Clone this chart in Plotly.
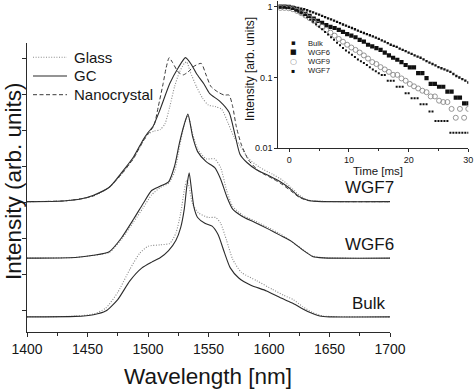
import plotly.graph_objects as go

# ---------------- main spectra (normalised intensity vs wavelength) ----------------
BULK_GC_WL = [1400, 1440, 1455, 1465, 1475, 1485, 1495, 1503, 1510, 1517, 1523, 1527, 1530, 1532, 1534, 1536, 1538, 1541, 1547, 1553,
              1558, 1563, 1568, 1575, 1585, 1598, 1610, 1620, 1628, 1634, 1642, 1650, 1700]
BULK_GC_I = [0, 0.003, 0.015, 0.04, 0.12, 0.25, 0.34, 0.38, 0.41, 0.46, 0.53, 0.62, 0.75, 0.9, 1.0, 0.88, 0.76, 0.69, 0.65, 0.63,
             0.57, 0.45, 0.34, 0.27, 0.22, 0.18, 0.13, 0.093, 0.055, 0.03, 0.006, 0.0, 0.0]

BULK_GL_WL = [1400, 1440, 1455, 1465, 1475, 1485, 1493, 1500, 1510, 1518, 1523, 1527, 1530, 1532, 1534, 1537, 1542, 1550, 1556, 1560,
              1565, 1570, 1577, 1590, 1603, 1612, 1620, 1628, 1636, 1645, 1700]
BULK_GL_I = [0, 0.005, 0.02, 0.06, 0.17, 0.33, 0.44, 0.49, 0.5, 0.51, 0.58, 0.72, 0.88, 0.95, 0.9, 0.78, 0.72, 0.69, 0.69, 0.65,
             0.53, 0.4, 0.31, 0.25, 0.19, 0.15, 0.12, 0.07, 0.03, 0.006, 0]

WGF6_GC_WL = [1400, 1440, 1455, 1468, 1478, 1488, 1496, 1503, 1510, 1517, 1522, 1526, 1530, 1533, 1537, 1541, 1548, 1555, 1560, 1565,
              1570, 1578, 1588, 1600, 1609, 1618, 1628, 1636, 1645, 1700]
WGF6_GC_I = [0, 0.005, 0.02, 0.045, 0.14, 0.27, 0.38, 0.47, 0.5, 0.53, 0.64, 0.8, 0.93, 1.0, 0.84, 0.74, 0.67, 0.63, 0.55, 0.43,
             0.34, 0.29, 0.25, 0.2, 0.16, 0.12, 0.056, 0.012, 0.002, 0]

WGF6_GL_WL = [1400, 1440, 1455, 1468, 1478, 1488, 1496, 1503, 1510, 1517, 1522, 1526, 1530, 1533, 1537, 1541, 1548, 1555, 1560, 1565,
              1570, 1578, 1588, 1600, 1609, 1618, 1628, 1636, 1645, 1700]
WGF6_GL_I = [0, 0.005, 0.02, 0.04, 0.13, 0.25, 0.35, 0.44, 0.49, 0.52, 0.6, 0.77, 0.93, 0.99, 0.86, 0.76, 0.69, 0.69, 0.63, 0.47,
             0.36, 0.3, 0.26, 0.21, 0.17, 0.12, 0.06, 0.015, 0.003, 0]

WGF7_GC_WL = [1400, 1430, 1445, 1455, 1468, 1478, 1488, 1496, 1500, 1504, 1510, 1518, 1525, 1531, 1536, 1540, 1546, 1551, 1559, 1567,
              1572, 1576, 1582, 1590, 1600, 1609, 1617, 1625, 1632, 1640, 1700]
WGF7_GC_I = [0, 0.005, 0.02, 0.045, 0.1, 0.2, 0.31, 0.43, 0.48, 0.52, 0.64, 0.82, 0.93, 1.0, 0.95, 0.89, 0.82, 0.75, 0.7, 0.62,
             0.46, 0.33, 0.27, 0.22, 0.18, 0.14, 0.093, 0.035, 0.01, 0.002, 0]

WGF7_NC_WL = [1400, 1430, 1445, 1455, 1468, 1478, 1488, 1496, 1500, 1505, 1508.5, 1512.5, 1515, 1517.5, 1520, 1525, 1529, 1533, 1538, 1544,
              1548, 1552, 1558, 1563, 1567, 1570, 1573, 1577, 1583, 1592, 1603, 1610, 1618, 1625, 1632, 1640, 1700]
WGF7_NC_I = [0, 0.005, 0.02, 0.04, 0.1, 0.19, 0.3, 0.42, 0.47, 0.53, 0.66, 0.82, 0.93, 1.0, 0.97, 0.9, 0.88, 0.9, 0.94, 0.96,
             0.88, 0.8, 0.76, 0.74, 0.74, 0.66, 0.52, 0.4, 0.29, 0.21, 0.16, 0.125, 0.075, 0.03, 0.008, 0.002, 0]

WGF7_GL_WL = [1400, 1430, 1445, 1455, 1468, 1478, 1488, 1496, 1500, 1505, 1510, 1514, 1518, 1522, 1526, 1530, 1532, 1535, 1540, 1545,
              1550, 1556, 1561, 1566, 1571, 1576, 1583, 1592, 1603, 1611, 1618, 1625, 1632, 1640, 1700]
WGF7_GL_I = [0, 0.005, 0.02, 0.04, 0.1, 0.19, 0.3, 0.42, 0.47, 0.49, 0.5, 0.54, 0.66, 0.8, 0.9, 0.96, 0.97, 0.9, 0.8, 0.72,
             0.67, 0.66, 0.64, 0.55, 0.45, 0.39, 0.3, 0.24, 0.19, 0.15, 0.1, 0.045, 0.012, 0.003, 0]

SAMPLES = ["Bulk", "WGF6", "WGF7"]
OFFSETS = {"Bulk": 0.81, "WGF6": 2.44, "WGF7": 4.01}
SCALE = 4.0
LEGEND_NAMES = ["Glass", "GC", "Nanocrystal"]

X_TICKS = [1400, 1450, 1500, 1550, 1600, 1650, 1700]

# ---------------- inset: decay curves ----------------
T_FAST = [-1.5, -1.0, -0.5, 0.0, 0.5, 1.0, 1.5, 2.0, 2.5, 3.0, 3.5, 4.0, 4.5, 5.0, 5.5, 6.0, 6.5, 7.0, 7.5, 8.0,
          8.5, 9.0, 9.5, 10.0, 10.5, 11.0, 11.5, 12.0, 12.5, 13.0, 13.5, 14.0, 14.5, 15.0, 15.5, 16.0, 16.5, 17.0, 17.5, 18.0,
          18.5, 19.0, 19.5, 20.0, 20.5, 21.0, 21.5, 22.0, 22.5, 23.0, 23.5, 24.0, 24.5, 25.0, 25.5, 26.0, 26.5, 27.0, 27.5, 28.0,
          28.5, 29.0, 29.5, 30.0]
BULK_DECAY = [1.0, 1.0, 1.0, 1.0, 0.99, 0.98, 0.96, 0.94, 0.92, 0.89, 0.86, 0.83, 0.8, 0.77, 0.74, 0.71, 0.685, 0.66, 0.635, 0.61,
              0.585, 0.56, 0.54, 0.52, 0.5, 0.48, 0.46, 0.44, 0.425, 0.41, 0.395, 0.38, 0.365, 0.35, 0.335, 0.32, 0.305, 0.29, 0.28, 0.27,
              0.255, 0.245, 0.235, 0.225, 0.215, 0.205, 0.197, 0.19, 0.18, 0.17, 0.162, 0.155, 0.148, 0.14, 0.135, 0.13, 0.125, 0.12, 0.112, 0.105,
              0.1, 0.095, 0.09, 0.085]
WGF7_DECAY = [0.97, 0.97, 0.96, 0.95, 0.93, 0.89, 0.85, 0.8, 0.755, 0.71, 0.66, 0.61, 0.565, 0.52, 0.48, 0.44, 0.405, 0.37, 0.34, 0.31,
              0.285, 0.26, 0.24, 0.225, 0.21, 0.195, 0.18, 0.17, 0.16, 0.15, 0.14, 0.13, 0.122, 0.115, 0.108, 0.108, 0.09, 0.09, 0.09, 0.074,
              0.074, 0.074, 0.06, 0.06, 0.051, 0.051, 0.051, 0.042, 0.042, 0.042, 0.033, 0.033, 0.0243, 0.0243, 0.0243, 0.0243, 0.0243, 0.0166, 0.0166, 0.0166,
              0.0166, 0.0166, 0.0166, 0.0166]

T_SLOW = [-1.5, -0.8, -0.1, 0.6, 1.3, 2.0, 2.7, 3.4, 4.1, 4.8, 5.5, 6.2, 6.9, 7.6, 8.3, 9.0, 9.7, 10.4, 11.1, 11.8,
          12.5, 13.2, 13.9, 14.6, 15.3, 16.0, 16.7, 17.4, 18.1, 18.8, 19.5, 20.2, 20.9, 21.6, 22.3, 23.0, 23.7, 24.4, 25.1, 25.8,
          26.5, 27.2, 27.9, 28.6, 29.3, 30.0]
WGF6_DECAY = [1.0, 1.0, 0.99, 0.96, 0.91, 0.85, 0.79, 0.74, 0.68, 0.63, 0.59, 0.55, 0.52, 0.5, 0.47, 0.44, 0.41, 0.39, 0.37, 0.34,
              0.32, 0.29, 0.275, 0.26, 0.245, 0.225, 0.205, 0.19, 0.178, 0.165, 0.15, 0.139, 0.139, 0.115, 0.115, 0.098, 0.081, 0.081, 0.074, 0.074,
              0.063, 0.063, 0.052, 0.052, 0.043, 0.043]
WGF9_DECAY = [0.96, 0.96, 0.95, 0.92, 0.87, 0.81, 0.75, 0.69, 0.63, 0.57, 0.52, 0.47, 0.43, 0.39, 0.35, 0.32, 0.29, 0.265, 0.245, 0.225,
              0.205, 0.185, 0.165, 0.155, 0.14, 0.13, 0.12, 0.109, 0.109, 0.097, 0.09, 0.081, 0.075, 0.07, 0.065, 0.062, 0.054, 0.054, 0.047, 0.045,
              0.045, 0.036, 0.027, 0.036, 0.027, 0.036]

INSET_X_TICKS = [0, 10, 20, 30]
INSET_Y_TICKS = [0.01, 0.1, 1]
INSET_Y_TEXT = ["0.01", "0.1", "1"]

# ---------------- figure ----------------
W, H = 474, 390
FONT = "Liberation Sans, Arial, sans-serif"
TXT = "#161616"


def px(x):
    return x / W


def py(y):
    return 1 - y / H


fig = go.Figure()

styles = {
    "Glass": dict(color="#8a8a8a", width=1.1, dash="1px,1.6px"),
    "GC": dict(color="#2b2b2b", width=1.1),
    "Nanocrystal": dict(color="#3a3a3a", width=1.0, dash="4px,2.5px"),
}

curves = [
    ("WGF7", "Glass", WGF7_GL_WL, WGF7_GL_I),
    ("WGF7", "GC", WGF7_GC_WL, WGF7_GC_I),
    ("WGF7", "Nanocrystal", WGF7_NC_WL, WGF7_NC_I),
    ("WGF6", "Glass", WGF6_GL_WL, WGF6_GL_I),
    ("WGF6", "GC", WGF6_GC_WL, WGF6_GC_I),
    ("Bulk", "Glass", BULK_GL_WL, BULK_GL_I),
    ("Bulk", "GC", BULK_GC_WL, BULK_GC_I),
]

for sample, kind, wl, inten in curves:
    off = OFFSETS[sample]
    fig.add_trace(go.Scatter(
        x=wl, y=[off + SCALE * v for v in inten], mode="lines",
        line=dict(shape="spline", smoothing=0.6, **styles[kind]),
        name=kind, showlegend=False,
        xaxis="x", yaxis="y", hoverinfo="skip",
    ))

# main legend (keys drawn as short paper-space line samples)
for i, name in enumerate(LEGEND_NAMES):
    yy = [57.3, 76.0, 94.7][i]
    st = styles[name]
    fig.add_shape(type="line", xref="paper", yref="paper", x0=px(33), x1=px(67), y0=py(yy), y1=py(yy),
                  line=dict(color=st["color"], width=st["width"], dash=st.get("dash", "solid")))
    fig.add_annotation(x=px(72), y=py(yy), xref="paper", yref="paper", text=name, showarrow=False,
                       xanchor="left", yanchor="middle", font=dict(family=FONT, size=15, color=TXT))

# sample labels
for s in SAMPLES:
    fig.add_annotation(x=1683, y=OFFSETS[s] + 0.38, xref="x", yref="y", text=s, showarrow=False,
                       xanchor="center", yanchor="middle", font=dict(family=FONT, size=17, color=TXT))

# inset traces
fig.add_trace(go.Scatter(x=T_FAST, y=BULK_DECAY, mode="markers", xaxis="x2", yaxis="y2",
                         marker=dict(symbol="square", size=2.3, color="#111", line=dict(width=0)),
                         showlegend=False, hoverinfo="skip"))
fig.add_trace(go.Scatter(x=T_SLOW, y=WGF6_DECAY, mode="markers", xaxis="x2", yaxis="y2",
                         marker=dict(symbol="square", size=4.2, color="#111", line=dict(width=0)),
                         showlegend=False, hoverinfo="skip"))
fig.add_trace(go.Scatter(x=T_SLOW, y=WGF9_DECAY, mode="markers", xaxis="x2", yaxis="y2",
                         marker=dict(symbol="circle-open", size=5, color="#8a8a8a", line=dict(width=0.9)),
                         showlegend=False, hoverinfo="skip"))
fig.add_trace(go.Scatter(x=T_FAST, y=WGF7_DECAY, mode="markers", xaxis="x2", yaxis="y2",
                         marker=dict(symbol="square", size=2.0, color="#111", line=dict(width=0)),
                         showlegend=False, hoverinfo="skip"))

# inset legend (text symbols)
inset_leg = [("▪", 7, "#111", "Bulk"), ("■", 7, "#111", "WGF6"), ("○", 8, "#8a8a8a", "WGF9"), ("▪", 6, "#111", "WGF7")]
for i, (sym, fs, col, lab) in enumerate(inset_leg):
    yy = [43.3, 52.3, 61.7, 70.7][i]
    fig.add_annotation(x=px(293), y=py(yy), xref="paper", yref="paper", text=sym, showarrow=False,
                       xanchor="center", yanchor="middle", font=dict(family="DejaVu Sans", size=fs, color=col))
    fig.add_annotation(x=px(306), y=py(yy), xref="paper", yref="paper", text=lab, showarrow=False,
                       xanchor="left", yanchor="middle", font=dict(family=FONT, size=7.6, color=TXT))

# axis titles
fig.add_annotation(x=px(208), y=py(376), xref="paper", yref="paper", text="Wavelength [nm]", showarrow=False,
                   xanchor="center", yanchor="middle", font=dict(family=FONT, size=22.5, color=TXT))
fig.add_annotation(x=px(13), y=py(181), xref="paper", yref="paper", text="Intensity (arb. units)", showarrow=False,
                   textangle=-90, xanchor="center", yanchor="middle", font=dict(family=FONT, size=22.5, color=TXT))
fig.add_annotation(x=px(378), y=py(171), xref="paper", yref="paper", text="Time [ms]", showarrow=False,
                   xanchor="center", yanchor="middle", font=dict(family=FONT, size=11.5, color=TXT))
fig.add_annotation(x=px(250), y=py(69), xref="paper", yref="paper", text="Intensity [arb. units]", showarrow=False,
                   textangle=-90, xanchor="center", yanchor="middle", font=dict(family=FONT, size=12, color=TXT))

axis_common = dict(showgrid=False, zeroline=False, showline=True, linecolor="#2a2a2a", mirror=False,
                   ticks="outside", tickcolor="#2a2a2a", automargin=False)

fig.update_layout(
    template="none",
    width=W, height=H, autosize=False,
    margin=dict(l=0, r=0, t=0, b=0, pad=0),
    paper_bgcolor="white", plot_bgcolor="rgba(0,0,0,0)",
    font=dict(family=FONT, color=TXT),
    showlegend=False,
    hovermode=False,
    xaxis=dict(domain=[px(27), px(390)], range=[1400, 1700], tickvals=X_TICKS, ticklen=4, tickwidth=1,
               linewidth=1.3, tickfont=dict(size=14, family=FONT, color=TXT),
               minor=dict(dtick=25, ticklen=3, tickwidth=1, tickcolor="#2a2a2a", ticks="outside"),
               anchor="y", **axis_common),
    yaxis=dict(domain=[py(332), py(43)], range=[0.389, 8.417], tickvals=[1, 2, 3, 4, 5, 6, 7, 8],
               showticklabels=False, ticklen=4, tickwidth=1, linewidth=1.3, anchor="x", **axis_common),
    xaxis2=dict(domain=[px(278.3), px(468.3)], range=[-1.84, 30], tickvals=INSET_X_TICKS, ticklen=3, tickwidth=1,
                linewidth=1, tickfont=dict(size=9, family=FONT, color=TXT),
                minor=dict(dtick=5, ticklen=2, tickwidth=1, tickcolor="#2a2a2a", ticks="outside"),
                anchor="y2", **axis_common),
    yaxis2=dict(domain=[py(148.3), py(1)], type="log", range=[-2, 0.08], tickvals=INSET_Y_TICKS, ticktext=INSET_Y_TEXT,
                ticklen=3, tickwidth=1, linewidth=1, tickfont=dict(size=9, family=FONT, color=TXT),
                anchor="x2", **axis_common),
)

fig.write_html("out.html", config={"displayModeBar": False, "staticPlot": True},
               post_script="document.body.style.margin='0';document.body.style.padding='0';")
